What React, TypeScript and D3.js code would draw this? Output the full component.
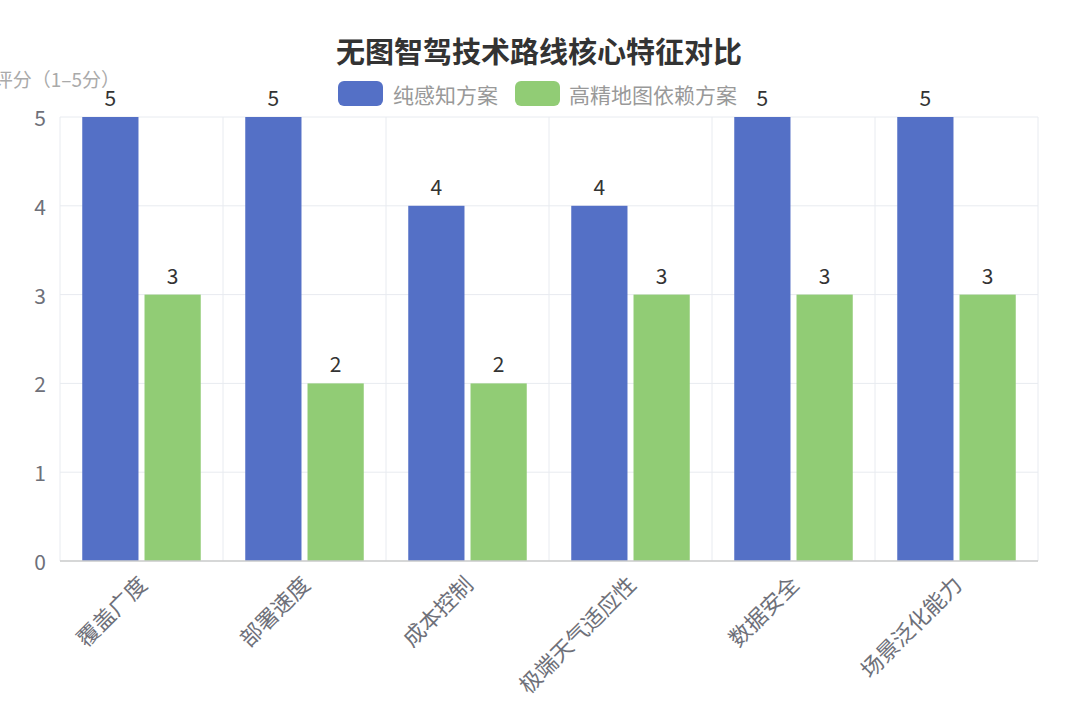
import { scaleBand, scaleLinear } from "d3";

const categories = ["覆盖广度", "部署速度", "成本控制", "极端天气适应性", "数据安全", "场景泛化能力"];
const seriesNames = ["纯感知方案", "高精地图依赖方案"];
const pureVision = [5, 5, 4, 4, 5, 5];
const hdMap = [3, 2, 2, 3, 3, 3];
const yTicks = [0, 1, 2, 3, 4, 5];

const COLORS = ["#5470c6", "#91cc75"];
const FONT = "'Noto Sans CJK SC', 'Noto Sans', sans-serif";

const W = 1080;
const H = 720;
const grid = { left: 60, right: 1038, top: 117, bottom: 561 };

export default function App() {
  const x = scaleBand<string>().domain(categories).range([grid.left, grid.right]);
  const y = scaleLinear().domain([0, 5]).range([grid.bottom, grid.top]);
  const band = x.bandwidth();
  const barW = band * 0.345;
  const gap = band * 0.037;
  const series = [pureVision, hdMap];

  // legend layout
  const legendItems = [
    { x: 338, textX: 393 },
    { x: 515, textX: 569 },
  ];

  return (
    <div style={{ position: "absolute", left: 0, top: 0, background: "#fff" }}>
      <svg width={W} height={H} fontFamily={FONT}>
        <rect width={W} height={H} fill="#fff" />
        <text x={539} y={50} textAnchor="middle" dominantBaseline="central" fontSize={29} fontWeight="bold" fill="#333">
          无图智驾技术路线核心特征对比
        </text>

        {seriesNames.map((name, i) => (
          <g key={name}>
            <rect x={legendItems[i].x} y={81} width={45} height={25} rx={6} fill={COLORS[i]} />
            <text x={legendItems[i].textX} y={94} dominantBaseline="central" fontSize={21} fill="#999">
              {name}
            </text>
          </g>
        ))}

        <text x={120} y={78} textAnchor="end" dominantBaseline="central" fontSize={19} fill="#aaa">
          评分（1–5分）
        </text>

        {/* horizontal grid lines */}
        {yTicks.map((t) => (
          <line key={"h" + t} x1={grid.left} x2={grid.right} y1={y(t)} y2={y(t)} stroke="#e8ebf0" strokeWidth={1} />
        ))}
        {/* vertical split lines */}
        {[...categories.map((c) => x(c) as number), grid.right].map((xv, i) => (
          <line key={"v" + i} x1={xv} x2={xv} y1={grid.top} y2={grid.bottom} stroke="#e8ebf0" strokeWidth={1} />
        ))}

        {yTicks.map((t) => (
          <text key={"yt" + t} x={46} y={y(t)} textAnchor="end" dominantBaseline="central" fontSize={21} fill="#6e7079">
            {t}
          </text>
        ))}

        {categories.map((c, ci) => {
          const start = (x(c) as number) + (band - 2 * barW - gap) / 2;
          return (
            <g key={c}>
              {series.map((vals, si) => {
                const bx = start + si * (barW + gap);
                const v = vals[ci];
                return (
                  <g key={si}>
                    <rect x={bx} y={y(v)} width={barW} height={y(0) - y(v)} fill={COLORS[si]} />
                    <text x={bx + barW / 2} y={y(v) - 11} textAnchor="middle" fontSize={21} fill="#333">
                      {v}
                    </text>
                  </g>
                );
              })}
            </g>
          );
        })}

        <line x1={grid.left} x2={grid.right} y1={grid.bottom} y2={grid.bottom} stroke="#ccc" strokeWidth={1.5} />

        {categories.map((c) => {
          const cx = (x(c) as number) + band / 2;
          return (
            <text
              key={"xl" + c}
              transform={`translate(${cx},${579}) rotate(-45)`}
              textAnchor="end"
              dominantBaseline="central"
              fontSize={22}
              fill="#6e7079"
            >
              {c}
            </text>
          );
        })}
      </svg>
    </div>
  );
}
